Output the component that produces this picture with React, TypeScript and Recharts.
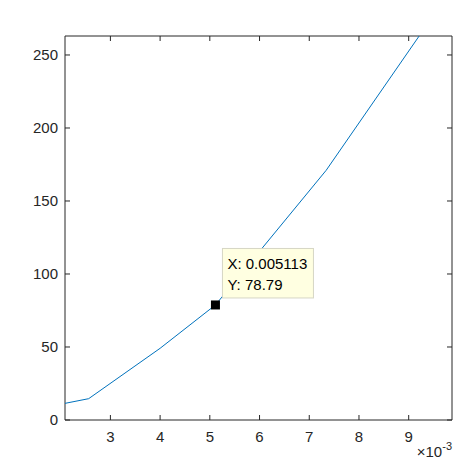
import { LineChart, Line, XAxis, YAxis, ReferenceDot, ReferenceArea, Label } from "recharts";

const X_VALUES = [0.002087, 0.002563, 0.004, 0.005113, 0.00734, 0.0093];
const Y_VALUES = [11.4, 14.6, 49.1, 78.79, 171, 267.4];

const X_TICKS = [0.003, 0.004, 0.005, 0.006, 0.007, 0.008, 0.009];
const Y_TICKS = [0, 50, 100, 150, 200, 250];
const X_DOMAIN = [0.002087, 0.009871];
const Y_DOMAIN = [0, 263];

const TIP_X = 0.005113;
const TIP_Y = 78.79;

const data = X_VALUES.map((x, i) => ({ x, y: Y_VALUES[i] }));

const FONT = '"Liberation Sans", Arial, Helvetica, sans-serif';
const INK = "#262626";

// plot box in px
const W = 474;
const H = 472;
const TOP = 36;
const LEFT = 65;
const RIGHT = 452;
const BOTTOM = 420;
const TICK = 5;

function XTick(props: any) {
  const x = props.payload.coordinate;
  return (
    <g>
      <line x1={x} x2={x} y1={BOTTOM} y2={BOTTOM - TICK} stroke={INK} />
      <line x1={x} x2={x} y1={TOP} y2={TOP + TICK} stroke={INK} />
      <text x={x} y={BOTTOM + 22} textAnchor="middle" fontFamily={FONT} fontSize={15} fill={INK}>
        {Math.round(props.payload.value * 1000)}
      </text>
    </g>
  );
}

function YTick(props: any) {
  const y = props.payload.coordinate;
  return (
    <g>
      <line x1={LEFT} x2={LEFT + TICK} y1={y} y2={y} stroke={INK} />
      <line x1={RIGHT} x2={RIGHT - TICK} y1={y} y2={y} stroke={INK} />
      <text x={LEFT - 7} y={y + 5} textAnchor="end" fontFamily={FONT} fontSize={15} fill={INK}>
        {props.payload.value}
      </text>
    </g>
  );
}

function ExpLabel(props: any) {
  const vb = props.viewBox;
  return (
    <text
      x={vb.x + vb.width}
      y={vb.y + 37}
      textAnchor="end"
      fontFamily={FONT}
      fontSize={15}
      fill={INK}
    >
      ×10
      <tspan dy={-7} fontSize={11}>
        -3
      </tspan>
    </text>
  );
}

function DataTip(props: any) {
  const { cx, cy } = props;
  return (
    <g>
      <rect x={cx - 4.5} y={cy - 4.5} width={9} height={9} fill="#000" />
      <rect x={cx + 7} y={cy - 56.5} width={91} height={49.5} fill="#ffffe1" stroke="#d6d6c4" />
      <text x={cx + 12} y={cy - 36} fontFamily={FONT} fontSize={15} fill="#000">
        X: {TIP_X}
      </text>
      <text x={cx + 12} y={cy - 15} fontFamily={FONT} fontSize={15} fill="#000">
        Y: {TIP_Y}
      </text>
    </g>
  );
}

export default function App() {
  return (
    <div style={{ position: "absolute", left: 0, top: 0, background: "#fff" }}>
      <LineChart
        width={W}
        height={H}
        data={data}
        margin={{ top: TOP, right: W - RIGHT, left: 0, bottom: 0 }}
      >
        <XAxis
          dataKey="x"
          type="number"
          domain={X_DOMAIN}
          ticks={X_TICKS}
          allowDataOverflow
          height={H - BOTTOM}
          axisLine={false}
          tickLine={false}
          tick={<XTick />}
        >
          <Label content={ExpLabel} />
        </XAxis>
        <YAxis
          type="number"
          domain={Y_DOMAIN}
          ticks={Y_TICKS}
          allowDataOverflow
          width={LEFT}
          axisLine={false}
          tickLine={false}
          tick={<YTick />}
        />
        <ReferenceArea
          x1={X_DOMAIN[0]}
          x2={X_DOMAIN[1]}
          y1={Y_DOMAIN[0]}
          y2={Y_DOMAIN[1]}
          fill="none"
          fillOpacity={0}
          stroke={INK}
          strokeWidth={1}
        />
        <Line
          dataKey="y"
          type="linear"
          stroke="#0072bd"
          strokeWidth={1}
          dot={false}
          isAnimationActive={false}
        />
        <ReferenceDot x={TIP_X} y={TIP_Y} r={5} shape={DataTip} ifOverflow="visible" />
      </LineChart>
    </div>
  );
}
